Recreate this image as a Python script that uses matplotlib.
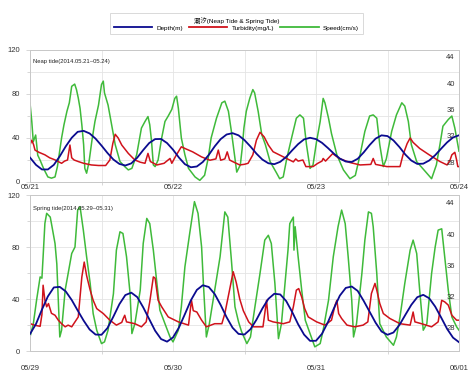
import matplotlib
matplotlib.use("Agg")
import matplotlib.pyplot as plt
from matplotlib.lines import Line2D

plt.rcParams['font.family'] = ['Liberation Sans', 'Noto Sans CJK SC', 'DejaVu Sans']

# ---------------- data (hours since start of each panel) ----------------
neap_ticks = ["05/21", "05/22", "05/23", "05/24"]
spring_ticks = ["05/29", "05/30", "05/31", "06/01"]
panel_labels = ["Neap tide(2014.05.21~05.24)", "Spring tide(2014.05.29~05.31)"]
legend_title = "潮汐(Neap Tide & Spring Tide)"
series_names = ["Depth(m)", "Turbidity(mg/L)", "Speed(cm/s)"]

depth_hours = list(range(73))
neap_depth = [28.7, 27.6, 26.9, 26.9, 27.6, 28.9, 30.4, 31.7, 32.6, 32.75,
              32.36, 31.57, 30.52, 29.4, 28.4, 27.74, 27.5, 27.82, 28.69, 29.84,
              30.9, 31.5, 31.52, 30.9, 29.9, 28.7, 27.7, 27.23, 27.35, 28.03,
              29.1, 30.4, 31.5, 32.2, 32.4, 32.07, 31.34, 30.38, 29.3, 28.4,
              27.84, 27.7, 28.06, 28.8, 29.8, 30.74, 31.46, 31.7, 31.5, 30.94,
              30.15, 29.3, 28.55, 28.1, 28.03, 28.52, 29.48, 30.6, 31.57, 32.07,
              31.96, 31.3, 30.3, 29.15, 28.25, 27.74, 27.78, 28.26, 29.06, 30.05,
              31.0, 31.75, 32.08]
spring_depth = [27.18, 28.46, 30.3, 32.0, 33.15, 33.22, 32.64, 31.54, 30.2, 28.9,
                27.76, 27.11, 27.08, 27.94, 29.42, 31.0, 32.17, 32.48, 31.91, 30.6,
                29.1, 27.6, 26.53, 26.2, 26.74, 28.01, 29.73, 31.5, 32.83, 33.43,
                33.21, 32.3, 30.9, 29.32, 27.98, 27.19, 27.11, 27.79, 29.0, 30.45,
                31.68, 32.34, 32.25, 31.4, 30.0, 28.43, 27.1, 26.3, 26.31, 27.2,
                28.69, 30.46, 32.1, 33.09, 33.27, 32.7, 31.43, 30.03, 28.63, 27.5,
                27.08, 27.37, 28.33, 29.64, 30.92, 31.9, 32.2, 31.76, 30.7, 29.3,
                27.84, 26.71, 26.13]

neap_speed_t = [0, 0.3, 0.55, 0.95, 1.3, 1.7, 2.3, 3.0, 3.6, 4.2, 4.6, 5.3, 5.7, 6.2, 6.6,
                7.0, 7.5, 7.8, 8.1, 8.4, 8.7, 9.0, 9.2, 9.5, 9.9, 10.4, 10.9, 11.5, 12.0,
                12.3, 12.5, 13.1, 13.7, 14.3, 15.1, 15.9, 16.5, 17.1, 17.9, 18.7, 19.3,
                19.8, 20.1, 20.4, 20.7, 21.0, 21.5, 22.1, 22.65, 23.2, 23.8, 24.3, 24.6,
                24.9, 25.4, 26.0, 26.6, 27.7, 28.5, 29.3, 29.9, 30.4, 31.3, 32.2, 32.7,
                33.3, 33.8, 34.4, 34.7, 35.3, 35.6, 35.9, 36.3, 36.9, 37.4, 37.7, 38.3,
                38.9, 39.5, 40.3, 41.4, 41.9, 42.5, 43.1, 43.9, 44.7, 45.3, 45.9, 46.4,
                47.0, 47.5, 48.1, 48.7, 49.2, 49.5, 50.1, 50.6, 51.5, 52.6, 53.7, 54.6,
                55.4, 56.2, 57.0, 57.6, 58.2, 58.7, 59.3, 59.8, 60.7, 61.5, 62.4, 62.9,
                63.5, 64.0, 64.9, 66.6, 67.4, 68.2, 68.8, 69.3, 70.2, 70.8, 71.3, 71.9, 72]
neap_speed = [71.8, 55, 36.6, 42.7, 24.4, 19.8, 12, 4.6, 3.5, 4.6, 14, 40, 52, 64.3, 72,
              87, 89, 84, 76.4, 67, 52, 34, 12.4, 8, 18, 38, 55, 70, 88.6,
              91.7, 81, 70, 52, 34, 18.6, 14, 11, 12.4, 24.7, 49, 55,
              59.5, 52, 37, 15.5, 14, 20, 40, 55, 60, 66, 76, 78,
              67, 40, 24.7, 12.4, 4.6, 1.5, 6.1, 21.4, 40, 58, 72, 73.5,
              64.3, 46, 21.4, 9, 15.5, 30, 49, 64.3, 76.4, 84, 81, 64,
              43, 34, 18.5, 8, 3, 4.6, 21.4, 40, 58, 61, 58, 34,
              12.4, 15.5, 37, 55, 76, 72, 58, 44, 24.7, 11, 3, 6,
              24.7, 46, 60, 61, 58, 34, 14, 21, 46, 61, 72, 69,
              55, 34, 18.5, 8, 3, 15.5, 34, 50.7, 56.8, 60, 49, 31, 28]

neap_turb_t = [0, 0.3, 0.6, 0.84, 1.5, 2.5, 3.3, 4.2, 5.3, 5.8, 6.3, 6.7, 7.0, 7.4, 8.1,
               9.0, 10.3, 11.5, 12.7, 13.4, 13.9, 14.3, 14.8, 15.4, 16.5, 17.6, 18.5,
               19.3, 19.8, 20.2, 21.3, 22.5, 23.5, 23.8, 24.5, 25.4, 26.2, 27.3, 28.8,
               30.2, 31.2, 31.6, 32.0, 32.7, 33.1, 33.5, 34.0, 35.2, 36.0, 36.6, 37.4,
               38.0, 38.6, 39.3, 40.0, 40.8, 42.5, 44.2, 44.6, 45.0, 45.8, 46.3, 47.5,
               48.3, 49.0, 49.2, 49.6, 50.8, 51.9, 53.7, 55.4, 57.2, 57.6, 58.0, 59.9,
               62.1, 62.6, 63.3, 63.8, 64.3, 65.4, 67.0, 68.8, 70.0, 70.5, 70.8, 71.3,
               71.6, 71.8, 72]
neap_turb = [33.6, 38, 34, 29, 27, 24.7, 22, 20.1, 17, 19, 20, 33.6, 22, 20, 18.6,
             17, 15.5, 15, 15, 20, 35, 43.4, 40, 33.6, 26, 20, 18,
             17, 26, 18.6, 15.5, 17, 21.4, 17, 24, 32, 30, 27.4, 22.8,
             19.8, 21, 29, 19.8, 21, 27.4, 20, 18.6, 15.5, 16.1, 17, 24.7,
             38, 45.2, 41, 33.6, 27.5, 22.9, 18.3, 21, 19, 20, 14, 14,
             17, 19, 21.4, 19, 25.8, 21.4, 17.7, 15.5, 16, 21.4, 16, 14,
             14, 24.7, 35, 40, 36, 30.5, 24.7, 18.6, 15.5, 20, 24.7, 27,
             20, 14, 14]

spring_speed_t = [0, 0.56, 1.1, 1.7, 2.0, 2.2, 2.5, 2.8, 3.4, 3.6, 4.2, 4.5, 4.75, 5.0,
                  5.3, 5.9, 6.4, 7.0, 7.55, 8.0, 8.4, 8.95, 9.5, 10.1, 10.6, 11.2, 12.0,
                  12.5, 13.1, 14.0, 14.5, 15.1, 15.6, 16.2, 16.8, 17.1, 17.6, 18.5, 19.0,
                  19.6, 20.1, 20.7, 21.3, 21.8, 22.65, 23.5, 24.0, 24.9, 25.4, 26.0, 26.8,
                  27.6, 28.2, 28.8, 29.1, 29.6, 30.1, 31.0, 31.9, 32.7, 33.2, 33.8, 34.4,
                  35.0, 35.5, 35.9, 36.4, 37.0, 37.75, 38.6, 39.4, 40.0, 40.5, 41.1, 41.7,
                  42.2, 42.8, 43.3, 43.6, 44.2, 44.3, 44.5, 45.0, 45.6, 46.2, 47.0, 47.8,
                  48.7, 49.2, 50.1, 50.9, 51.7, 52.3, 52.9, 53.4, 54.0, 54.3, 54.8, 55.7,
                  56.2, 56.8, 57.3, 57.6, 58.2, 58.7, 59.8, 61.0, 61.5, 62.1, 62.9, 63.8,
                  64.3, 64.9, 65.4, 66.0, 66.6, 67.4, 68.0, 68.5, 69.1, 69.6, 70.2, 70.8,
                  71.6, 72]
spring_speed = [10.8, 21, 39, 57, 56, 72.5, 98.2, 105.9, 103, 98, 82.7, 67, 39, 10.8,
                16, 46.8, 59.6, 75, 80, 108.4, 111, 93, 72.5, 52, 28.8, 16, 5.7,
                7, 16, 44, 77.6, 91.7, 90.4, 72.5, 44, 13.4, 21, 46.8, 82.7,
                102, 98, 77.6, 52, 31.4, 21, 10.8, 7, 16, 34, 64.8, 90.4,
                114.9, 105.9, 80, 52, 10.8, 21, 46.8, 72.5, 107, 103, 70, 34,
                22.4, 15, 10.8, 5.7, 10.8, 34, 59.6, 85.3, 89, 82.7, 52, 9.5,
                21, 52, 77.6, 98, 103, 77.6, 95.6, 72.5, 46.8, 23.7, 13.4, 3.2,
                5.7, 16, 39, 72.5, 95.6, 108.4, 98, 72.5, 39, 10.8, 21, 59.6,
                85.3, 107, 105.9, 95.6, 59.6, 21, 10.8, 4.4, 10.8, 26.2, 52, 77.6,
                85.3, 75, 46.8, 16, 21, 59.6, 80, 93, 94, 72.5, 46.8, 26.2,
                18.6, 16]

spring_turb_t = [0, 0.8, 1.7, 2.0, 2.2, 2.5, 2.8, 3.1, 3.6, 4.2, 4.75, 5.3, 5.9, 6.4, 7.0,
                 7.55, 8.1, 8.7, 9.1, 9.5, 10.1, 10.6, 11.2, 12.3, 13.4, 14.5, 15.4, 15.65,
                 15.9, 16.2, 17.6, 18.7, 19.5, 20.1, 20.7, 21.0, 21.5, 22.1, 23.2, 24.9,
                 26.6, 27.1, 27.4, 28.0, 28.8, 29.6, 31.0, 32.2, 32.7, 33.6, 34.1, 34.6,
                 35.2, 35.8, 36.7, 37.5, 39.1, 39.7, 40.0, 40.8, 42.5, 43.6, 44.2, 44.7,
                 45.1, 45.6, 46.1, 46.7, 48.1, 49.5, 50.6, 51.2, 51.5, 51.8, 52.3, 53.2,
                 54.5, 55.9, 56.7, 57.3, 57.9, 58.2, 58.7, 59.3, 60.4, 62.1, 63.8, 64.3,
                 64.6, 65.7, 67.4, 68.5, 69.1, 69.6, 70.2, 70.8, 71.6, 72]
spring_turb = [21.1, 19.8, 19, 28, 50.6, 39, 34, 36.5, 29, 27.5, 23.7, 21, 18.6, 19.9, 18.6,
               22.4, 26.2, 56.9, 68.4, 58, 46.8, 39, 32.6, 28.8, 23.7, 19.9, 22, 25,
               27.5, 22.4, 21, 18.6, 22.4, 37.8, 57, 56, 39, 34, 26.2, 22.4,
               19.9, 39, 31, 30, 23.7, 18.6, 21, 21, 28.8, 49.4, 61, 53,
               40, 31, 22.4, 18.6, 18.6, 39, 23.7, 22.4, 21, 22.4, 34, 46.8,
               48, 41.5, 32.6, 26.2, 22.4, 19.9, 23.7, 35.3, 39, 28.8, 25, 19.9,
               18.6, 19.9, 22.4, 44.2, 52, 46.8, 36.6, 28.8, 25, 21, 19.9, 30,
               22.4, 21, 18.6, 22.4, 39, 37.8, 35.3, 27.5, 23.7, 23.7]

# ---------------- styling ----------------
C_DEPTH = '#0b0b8f'
C_TURB = '#d0121b'
C_SPEED = '#3fba3a'
GRID = '#e4e4e4'
SPINE = '#c8c8c8'

fig = plt.figure(figsize=(4.74, 3.79), dpi=100)
W, H = 474.0, 379.0
ax_top = fig.add_axes([30 / W, 1 - 182 / H, 429 / W, 132 / H])
ax_bot = fig.add_axes([30 / W, 1 - 351 / H, 429 / W, 156 / H])

panels = [
    (ax_top, neap_ticks, panel_labels[0], neap_speed_t, neap_speed, neap_turb_t, neap_turb, neap_depth, 1.5),
    (ax_bot, spring_ticks, panel_labels[1], spring_speed_t, spring_speed, spring_turb_t, spring_turb, spring_depth, 10),
]

for ax, xt, lab, st, sv, tt, tv, dv, xpad in panels:
    ax.plot(st, sv, color=C_SPEED, lw=1.1, zorder=3)
    ax.plot(tt, tv, color=C_TURB, lw=1.1, zorder=4)
    ax.set_xlim(0, 72)
    ax.set_ylim(0, 120)
    ax.set_xticks([0, 24, 48, 72])
    ax.set_xticklabels(xt)
    ax.set_xticks([12, 36, 60], minor=True)
    ax.set_yticks([0, 40, 80, 120])
    ax.set_yticks([20, 60, 100], minor=True)
    ax.grid(True, which='both', color=GRID, lw=0.6, zorder=0)
    ax.tick_params(axis='y', which='major', labelsize=5.5, length=3, width=0.5,
                   color=SPINE, pad=4, labelcolor='#333333')
    ax.tick_params(axis='y', which='minor', length=2, width=0.5, color=SPINE)
    ax.tick_params(axis='x', which='major', labelsize=5.5, length=0, pad=xpad,
                   labelcolor='#333333')
    ax.tick_params(axis='x', which='minor', length=2, width=0.5, color=SPINE)
    for s in ax.spines.values():
        s.set_color(SPINE)
        s.set_linewidth(0.7)
    ax.text(0.008, 0.93, lab, transform=ax.transAxes, fontsize=4.2,
            ha='left', va='top', color='#222222')

    ax2 = ax.twinx()
    ax2.plot(depth_hours, dv, color=C_DEPTH, lw=1.3, zorder=5)
    ax2.set_ylim(25, 45)
    ax2.set_yticks([28, 32, 36, 40, 44])
    ax2.tick_params(axis='y', labelsize=5.5, length=0, labelcolor='#333333')
    for lbl in ax2.get_yticklabels():
        lbl.set_horizontalalignment('right')
    for s in ax2.spines.values():
        s.set_color(SPINE)
        s.set_linewidth(0.7)
    ax2.yaxis.set_tick_params(pad=-3)

handles = [Line2D([], [], color=C_DEPTH, lw=1.3),
           Line2D([], [], color=C_TURB, lw=1.3),
           Line2D([], [], color=C_SPEED, lw=1.3)]
leg = fig.legend(handles, series_names, loc='upper center',
                 bbox_to_anchor=(236.5 / W, 1 - 10 / H), ncol=3,
                 fontsize=4.6, title=legend_title, title_fontsize=4.6,
                 handlelength=6.0, handletextpad=0.7, columnspacing=0.9,
                 frameon=True, fancybox=False, borderpad=0.6, labelspacing=0.2)
leg.get_frame().set_edgecolor('#d0d0d0')
leg.get_frame().set_linewidth(0.7)

fig.savefig('out.png', dpi=100)
